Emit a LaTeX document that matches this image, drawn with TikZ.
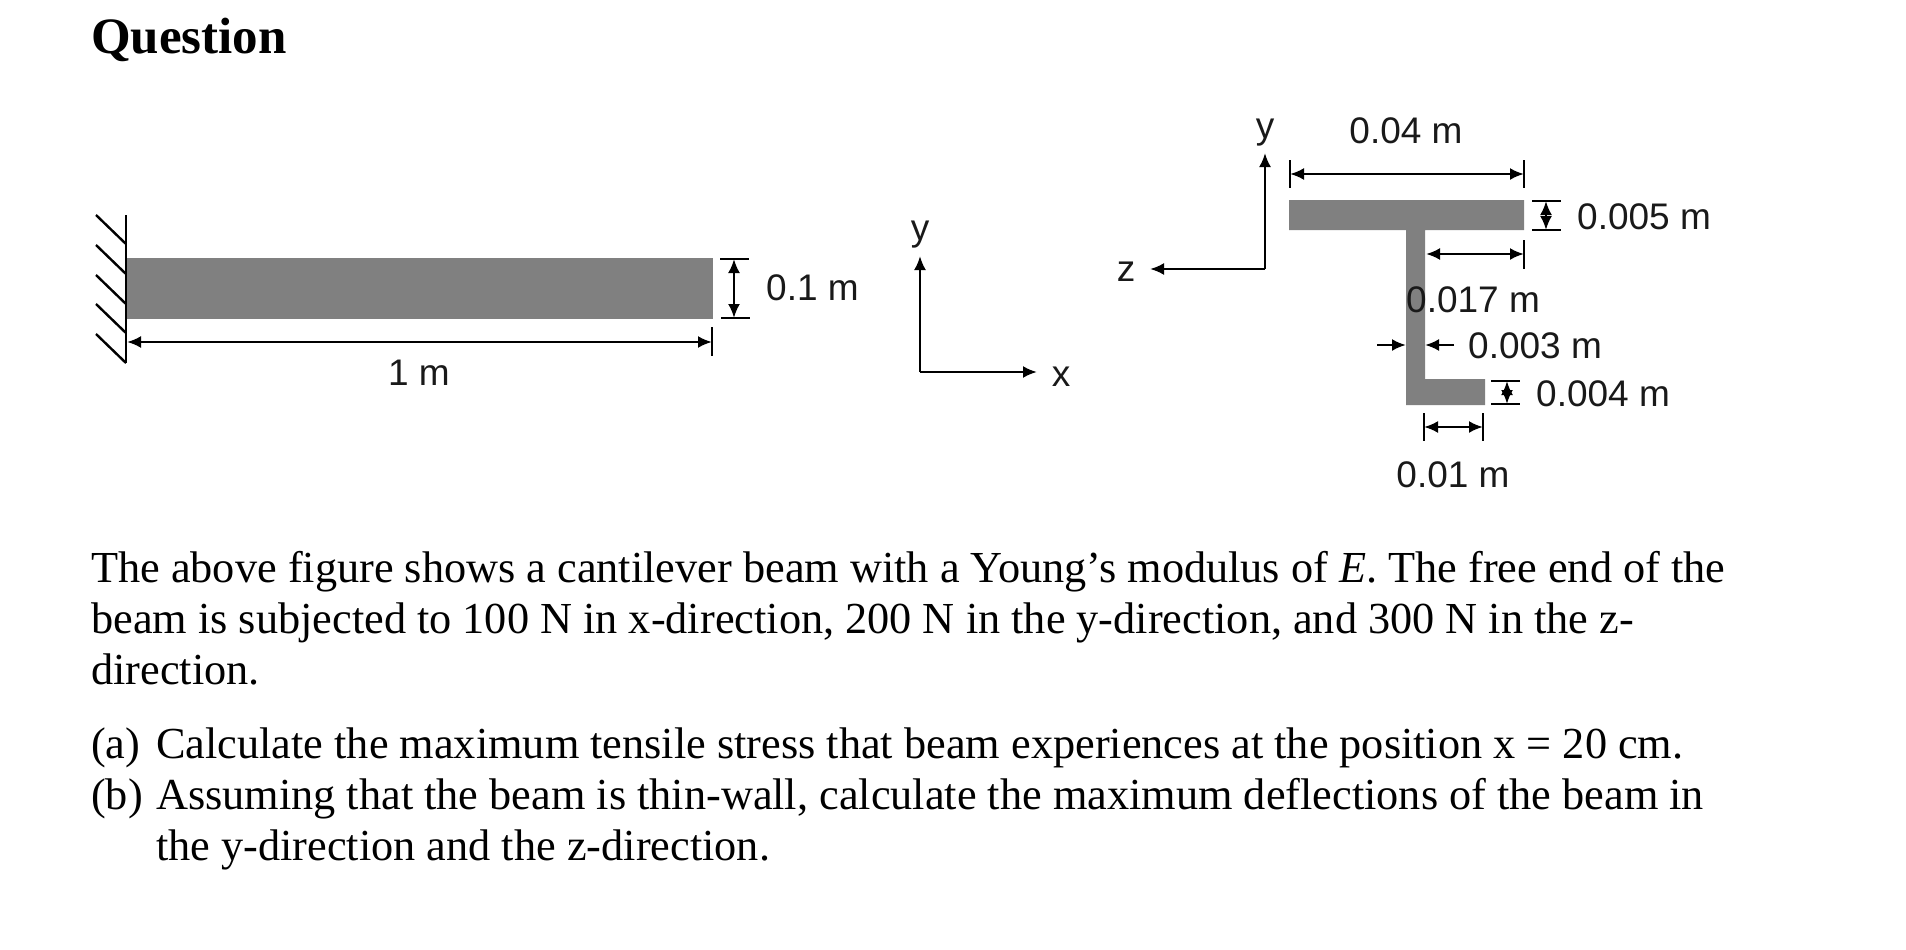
\documentclass[tikz,border=0pt]{standalone}
\usepackage{fontspec}
\setmainfont{Liberation Serif}
\newfontfamily\labelfont{Liberation Sans}
\usetikzlibrary{arrows.meta}

\begin{document}
\begin{tikzpicture}[x=1pt, y=-1pt,
    dim line/.style={line width=2.4pt, {Latex[length=14pt,width=12pt]}-{Latex[length=14pt,width=12pt]}},
    one arrow/.style={line width=2.4pt, -{Latex[length=14pt,width=12pt]}},
    dim tick/.style={line width=2pt},
    wall line/.style={line width=2.4pt},
    section/.style={fill=black!50, draw=none},
    dim label/.style={font=\labelfont\fontsize{37}{44}\selectfont, inner sep=0pt, text=black!90},
    body line/.style={font=\fontsize{44.3}{51}\selectfont, inner sep=0pt, anchor=base west}]
    \useasboundingbox (0,0) rectangle (1906,950);

    \node[inner sep=0pt, anchor=base west, font=\bfseries\fontsize{51}{60}\selectfont] (title) at (91,54) {Question};

    % beam and wall
    \fill[section] (127,258) rectangle (713,319);
    \draw[wall line] (126,215) -- (126,363);
    \foreach \ytop in {215,245,275,304,334}
        \draw[wall line] (96,\ytop) -- (126,\ytop+29);

    % beam dimensions
    \coordinate (lenL) at (127,342);
    \coordinate (lenR) at (712,342);
    \draw[dim line] (lenL) -- (lenR);
    \draw[dim tick] (712,327) -- (712,356);
    \node[dim label] (lenText) at (419,373) {1 m};

    \coordinate (htT) at (734,259);
    \coordinate (htB) at (734,318);
    \draw[dim line] (htT) -- (htB);
    \draw[dim tick] (720,259) -- (749,259);
    \draw[dim tick] (721,318) -- (750,318);
    \node[dim label, anchor=west] (htText) at (766,288) {0.1 m};

    % beam axes
    \coordinate (axO) at (920,372);
    \coordinate (axY) at (920,256);
    \coordinate (axX) at (1037,372);
    \draw[one arrow] (axO) -- (axY);
    \draw[one arrow] (axO) -- (axX);
    \node[dim label] (axYtext) at (920,235) {y};
    \node[dim label] (axXtext) at (1061,377) {x};

    % section axes
    \coordinate (seO) at (1265,269);
    \coordinate (seY) at (1265,153);
    \coordinate (seZ) at (1150,269);
    \draw[one arrow] (seO) -- (seY);
    \draw[one arrow] (seO) -- (seZ);
    \node[dim label] (seYtext) at (1265,133) {y};
    \node[dim label] (seZtext) at (1126,272) {z};

    % T section with foot
    \fill[section] (1289,200) -- (1524,200) -- (1524,230) -- (1425,230) -- (1425,379)
        -- (1485,379) -- (1485,405) -- (1406,405) -- (1406,230) -- (1289,230) -- cycle;

    % section dimensions
    \coordinate (wT1) at (1290,174);
    \coordinate (wT2) at (1524,174);
    \draw[dim line] (wT1) -- (wT2);
    \draw[dim tick] (1290,160) -- (1290,188);
    \draw[dim tick] (1524,160) -- (1524,188);
    \node[dim label] (wText) at (1406,131) {0.04 m};

    \coordinate (tT1) at (1546,201);
    \coordinate (tT2) at (1546,230);
    \draw[dim line] (tT1) -- (tT2);
    \draw[dim tick] (1532,201) -- (1561,201);
    \draw[dim tick] (1532,230) -- (1561,230);
    \node[dim label, anchor=west] (tText) at (1577,217) {0.005 m};

    \coordinate (oH1) at (1426,254);
    \coordinate (oH2) at (1524,254);
    \draw[dim line] (oH1) -- (oH2);
    \draw[dim tick] (1524,240) -- (1524,269);
    \node[dim label, anchor=west] (oText) at (1406,300) {0.017 m};

    \coordinate (webA) at (1377,345);
    \coordinate (webB) at (1406,345);
    \coordinate (webC) at (1454,345);
    \coordinate (webD) at (1425,345);
    \draw[one arrow] (webA) -- (webB);
    \draw[one arrow] (webC) -- (webD);
    \node[dim label, anchor=west] (webText) at (1468,346) {0.003 m};

    \coordinate (fT1) at (1507,381);
    \coordinate (fT2) at (1507,404);
    \draw[dim line] (fT1) -- (fT2);
    \draw[dim tick] (1491,381) -- (1520,381);
    \draw[dim tick] (1491,404) -- (1520,404);
    \node[dim label, anchor=west] (fText) at (1536,394) {0.004 m};

    \coordinate (fH1) at (1424,427);
    \coordinate (fH2) at (1483,427);
    \draw[dim line] (fH1) -- (fH2);
    \draw[dim tick] (1424,413) -- (1424,441);
    \draw[dim tick] (1483,413) -- (1483,441);
    \node[dim label] (fwText) at (1453,475) {0.01 m};

    % question text
    \node[body line] (lineA) at (91,582.5) {The above figure shows a cantilever beam with a Young’s modulus of \textit{E}. The free end of the};
    \node[body line] (lineB) at (91,633.5) {beam is subjected to 100 N in x-direction, 200 N in the y-direction, and 300 N in the z-};
    \node[body line] (lineC) at (91,684.5) {direction.};
    \node[body line] (partA) at (91,758.5) {(a)};
    \node[body line] (partAt) at (156,758.5) {Calculate the maximum tensile stress that beam experiences at the position x = 20 cm.};
    \node[body line] (partB) at (91,809.5) {(b)};
    \node[body line] (partBt) at (156,809.5) {Assuming that the beam is thin-wall, calculate the maximum deflections of the beam in};
    \node[body line] (partBu) at (156,860.5) {the y-direction and the z-direction.};
\end{tikzpicture}
\end{document}
